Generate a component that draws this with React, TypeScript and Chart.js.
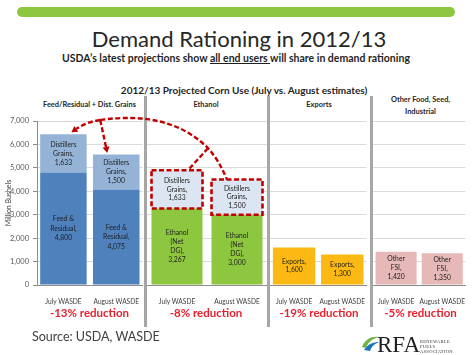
import React, { useEffect, useRef } from "react";
import { Chart, registerables } from "chart.js";
Chart.register(...registerables);

// ---------- data ----------
const categories = ["July WASDE", "August WASDE"];
const feedResidual = [4800, 4075];
const feedDistillers = [1633, 1500];
const ethanolNetDG = [3267, 3000];
const ethanolDistillers = [1633, 1500];
const exportsUse = [1600, 1300];
const otherFSI = [1420, 1350];
const yMin = 0;
const yMax = 7000;
const yStep = 1000;
const groupTitles = [
  ["Feed/Residual + Dist. Grains"],
  ["Ethanol"],
  ["Exports"],
  ["Other Food, Seed,", "Industrial"],
];
const reductions = ["-13% reduction", "-8% reduction", "-19% reduction", "-5% reduction"];
const mainTitle = "Demand Rationing in 2012/13";
const chartTitle = "2012/13 Projected Corn Use (July vs. August estimates)";
const yAxisTitle = "Million Bushels";
const sourceText = "Source: USDA, WASDE";

// ---------- layout / style ----------
const W = 474;
const H = 355;
const FONT = "Lato, 'Open Sans', sans-serif";
const PLOT_TOP = 121;
const PLOT_BOTTOM = 285;
const X_AXIS_H = 24;
const Y_AXIS_W = 37;
const PANELS = [
  { left: 0, right: 144, axis: true, barPct: 0.88 },
  { left: 147, right: 267, axis: false, barPct: 0.85 },
  { left: 270, right: 370, axis: false, barPct: 0.88 },
  { left: 373, right: 470, axis: false, barPct: 0.89 },
];
const SEPARATORS = [145.5, 268.5, 371.5];
const RED = "#c00000";

const panelDatasets = () => [
  [
    { label: "Feed & Residual", data: feedResidual, backgroundColor: "#4f81bd", labelLines: ["Feed &", "Residual,"], lh: 9.5 },
    { label: "Distillers Grains", data: feedDistillers, backgroundColor: "#95b3d7", labelLines: ["Distillers", "Grains,"], lh: 9 },
  ],
  [
    { label: "Ethanol (Net DG)", data: ethanolNetDG, backgroundColor: "#8dc63f", labelLines: ["Ethanol", "(Net", "DG),"], lh: 9 },
    { label: "Distillers Grains", data: ethanolDistillers, backgroundColor: "#dce6f2", labelLines: ["Distillers", "Grains,"], lh: 8.5, dashed: true },
  ],
  [{ label: "Exports", data: exportsUse, backgroundColor: "#fdb913", labelLines: ["Exports,"], lh: 8.5 }],
  [{ label: "Other FSI", data: otherFSI, backgroundColor: "#e6b9b8", labelLines: ["Other", "FSI,"], lh: 9 }],
];

const fmt = (v: number) => v.toLocaleString("en-US");

const barLabelPlugin = {
  id: "barLabels",
  afterDatasetsDraw(chart: any) {
    const ctx = chart.ctx;
    chart.data.datasets.forEach((ds: any, di: number) => {
      const meta = chart.getDatasetMeta(di);
      meta.data.forEach((el: any, i: number) => {
        const p = el.getProps(["x", "y", "base", "width"], true);
        if (ds.dashed) {
          ctx.save();
          ctx.strokeStyle = RED;
          ctx.lineWidth = 2.6;
          ctx.setLineDash([5, 2.5]);
          ctx.strokeRect(p.x - p.width / 2, p.y, p.width, p.base - p.y);
          ctx.restore();
        }
        const lines = [...ds.labelLines, fmt(ds.data[i])];
        const cy = (p.y + p.base) / 2;
        ctx.save();
        ctx.font = `6.8px ${FONT}`;
        ctx.fillStyle = "#1f1f1f";
        ctx.textAlign = "center";
        ctx.textBaseline = "middle";
        lines.forEach((l: string, k: number) => {
          ctx.fillText(l, p.x, cy + (k - (lines.length - 1) / 2) * ds.lh);
        });
        ctx.restore();
      });
    });
  },
};

function makeChart(canvas: HTMLCanvasElement, idx: number) {
  const panel = PANELS[idx];
  const datasets = panelDatasets()[idx].map((d: any) => ({
    ...d,
    barPercentage: panel.barPct,
    categoryPercentage: 1,
    borderWidth: 0,
  }));
  return new Chart(canvas, {
    type: "bar",
    data: { labels: categories, datasets },
    options: {
      animation: false,
      responsive: false,
      devicePixelRatio: 1,
      layout: { padding: { top: PLOT_TOP, bottom: H - PLOT_BOTTOM - X_AXIS_H, left: 0, right: 0 } },
      plugins: { legend: { display: false }, tooltip: { enabled: false } },
      scales: {
        x: {
          stacked: true,
          grid: { display: false },
          border: { display: true, color: "#8c8c8c" },
          ticks: { font: { family: FONT, size: 6.6 }, color: "#404040", padding: 5, maxRotation: 0, autoSkip: false },
          afterFit: (s: any) => { s.height = X_AXIS_H; },
        },
        y: {
          stacked: true,
          min: yMin,
          max: yMax,
          ticks: {
            display: panel.axis,
            stepSize: yStep,
            font: { family: FONT, size: 7.5 },
            color: "#595959",
            padding: 4,
            callback: (v: any) => fmt(Number(v)),
          },
          grid: { color: "#dadada", drawTicks: panel.axis, tickLength: 4, tickColor: "#8c8c8c" },
          border: { display: panel.axis, color: "#8c8c8c" },
          title: { display: panel.axis, text: yAxisTitle, font: { family: FONT, size: 7 }, color: "#404040", padding: { top: 5, bottom: 0 } },
          afterFit: (s: any) => { s.width = panel.axis ? Y_AXIS_W : 0; },
        },
      },
    },
    plugins: [barLabelPlugin],
  } as any);
}

function drawArrows(ctx: CanvasRenderingContext2D, feed: any, eth: any) {
  const f = feed.getDatasetMeta(1).data;
  const e = eth.getDatasetMeta(1).data;
  const fo = PANELS[0].left;
  const eo = PANELS[1].left;
  const feedJuly = { x: f[0].x + fo + 8, y: f[0].y - 2 };
  const feedAug = { x: f[1].x + fo - 9, y: f[1].y - 1.5 };
  const ethJuly = { x: e[0].x + eo + 11, y: e[0].y };
  const ethAug = { x: e[1].x + eo - 10, y: e[1].y };
  const apex = { x: feedAug.x - 7, y: feed.chartArea.top - 1 };
  const junction = { x: ethJuly.x + 20, y: ethJuly.y - 22 };

  ctx.save();
  ctx.strokeStyle = RED;
  ctx.fillStyle = RED;
  ctx.lineWidth = 2.4;
  ctx.setLineDash([5, 2.5]);

  const head = (from: any, tip: any) => {
    const a = Math.atan2(tip.y - from.y, tip.x - from.x);
    const len = 6, hw = 3.5;
    const bx = tip.x - Math.cos(a) * len, by = tip.y - Math.sin(a) * len;
    ctx.save();
    ctx.setLineDash([]);
    ctx.beginPath();
    ctx.moveTo(tip.x, tip.y);
    ctx.lineTo(bx + Math.sin(a) * hw, by - Math.cos(a) * hw);
    ctx.lineTo(bx - Math.sin(a) * hw, by + Math.cos(a) * hw);
    ctx.closePath();
    ctx.fill();
    ctx.restore();
    return { x: bx, y: by };
  };

  // big curve apex -> junction -> August ethanol box
  ctx.beginPath();
  ctx.moveTo(apex.x, apex.y);
  ctx.quadraticCurveTo(junction.x - 38, apex.y - 10, junction.x, junction.y);
  ctx.quadraticCurveTo(junction.x + 11, junction.y + 12, ethAug.x, ethAug.y);
  ctx.stroke();
  // branch to July ethanol box
  ctx.beginPath();
  ctx.moveTo(junction.x, junction.y);
  ctx.lineTo(ethJuly.x, ethJuly.y);
  ctx.stroke();
  // arrow to July feed bar
  const c1 = { x: apex.x - 14, y: apex.y + 2 };
  const b1 = head(c1, feedJuly);
  ctx.beginPath();
  ctx.moveTo(apex.x, apex.y);
  ctx.quadraticCurveTo(c1.x, c1.y, b1.x, b1.y);
  ctx.stroke();
  // arrow to August feed bar
  const b2 = head(apex, feedAug);
  ctx.beginPath();
  ctx.moveTo(apex.x, apex.y);
  ctx.lineTo(b2.x, b2.y);
  ctx.stroke();
  ctx.restore();
}

function Txt(props: { cx: number; cy: number; size: number; text: any; bold?: boolean; color?: string; lh?: number; family?: string }) {
  const lh = props.lh ?? props.size * 1.2;
  return (
    <div
      style={{
        position: "absolute",
        left: props.cx - 200,
        width: 400,
        top: props.cy - lh / 2,
        textAlign: "center",
        fontFamily: props.family ?? FONT,
        fontSize: props.size,
        fontWeight: props.bold ? 700 : 400,
        lineHeight: lh + "px",
        color: props.color ?? "#262626",
        whiteSpace: "nowrap",
      }}
    >
      {props.text}
    </div>
  );
}

export default function App() {
  const refs = [useRef<HTMLCanvasElement>(null), useRef<HTMLCanvasElement>(null), useRef<HTMLCanvasElement>(null), useRef<HTMLCanvasElement>(null)];
  const overlay = useRef<HTMLCanvasElement>(null);

  useEffect(() => {
    const charts = refs.map((r, i) => makeChart(r.current as HTMLCanvasElement, i));
    const ctx = overlay.current!.getContext("2d")!;
    ctx.clearRect(0, 0, W, H);
    drawArrows(ctx, charts[0], charts[1]);
    return () => charts.forEach((c) => c.destroy());
  }, []);

  const areaLeft = (p: any) => p.left + (p.axis ? Y_AXIS_W : 0);
  const centers = PANELS.map((p) => (areaLeft(p) + p.right) / 2);

  return (
    <div style={{ position: "fixed", left: 0, top: 0, width: W, height: H, background: "#fff", overflow: "hidden" }}>
      <div style={{ position: "absolute", left: 17, top: 7, width: 438, height: 10, borderRadius: 5, background: "#8dc63f" }} />
      <Txt cx={239} cy={39} size={22} text={mainTitle} />
      <Txt
        cx={236}
        cy={58}
        size={10.5}
        bold
        color="#1f1f1f"
        text={
          <span>
            USDA’s latest projections show <span style={{ textDecoration: "underline" }}>all end users </span>will share in demand rationing
          </span>
        }
      />
      <Txt cx={244} cy={90} size={10} bold color="#1f1f1f" text={chartTitle} />
      {groupTitles.map((g, i) => (
        <div key={i}>
          {g.map((line, k) => (
            <Txt key={k} cx={centers[i] - 1} cy={(g.length > 1 ? 100 : 105.5) + k * 12} size={7.4} bold color="#262626" text={line} />
          ))}
        </div>
      ))}
      {SEPARATORS.map((x, i) => (
        <div key={i} style={{ position: "absolute", left: x - 1.5, top: 96, width: 3, height: 231, background: "#a6a6a6" }} />
      ))}
      {PANELS.map((p, i) => (
        <canvas
          key={i}
          ref={refs[i]}
          width={p.right - p.left}
          height={H}
          style={{ position: "absolute", left: p.left, top: 0, width: p.right - p.left, height: H }}
        />
      ))}
      <canvas ref={overlay} width={W} height={H} style={{ position: "absolute", left: 0, top: 0, width: W, height: H, pointerEvents: "none" }} />
      {reductions.map((r, i) => (
        <Txt key={i} cx={centers[i] - 1} cy={313} size={11.5} bold color="#e8212e" text={r} />
      ))}
      <div style={{ position: "absolute", left: 32, top: 329, fontFamily: FONT, fontSize: 12.5, lineHeight: "16px", color: "#404040", whiteSpace: "nowrap" }}>
        {sourceText}
      </div>
      {/* RFA logo */}
      <svg style={{ position: "absolute", left: 360, top: 334 }} width={20} height={20}>
        <path d="M2 13 C5 5, 12 2, 19 3 C12 5, 8 8, 6 14 Z" fill="#6cb33f" />
        <path d="M4 16 C8 10, 13 8, 19 8 C14 10, 11 13, 10 17 Z" fill="#1b75bb" />
      </svg>
      <div style={{ position: "absolute", left: 377, top: 333, fontFamily: "'Liberation Serif', 'DejaVu Serif', serif", fontSize: 23, lineHeight: "24px", color: "#1f1f1f" }}>
        RFA
      </div>
      <div style={{ position: "absolute", left: 420, top: 339, fontFamily: "'Liberation Serif', serif", fontSize: 4.5, lineHeight: "5px", color: "#333", letterSpacing: 0.3 }}>
        RENEWABLE
        <br />
        FUELS
        <br />
        ASSOCIATION
      </div>
    </div>
  );
}
